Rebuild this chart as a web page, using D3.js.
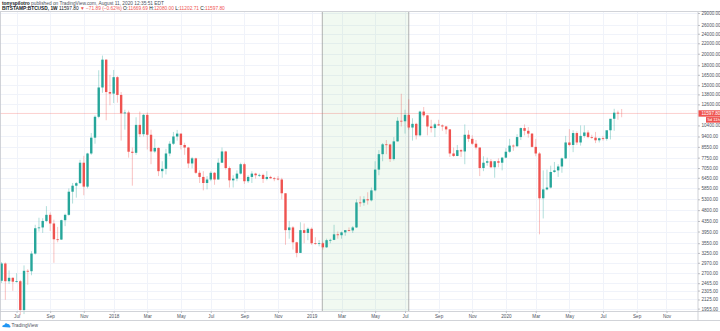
<!DOCTYPE html>
<html>
<head>
<meta charset="utf-8">
<script src="https://cdn.jsdelivr.net/npm/d3@7/dist/d3.min.js"></script>
<style>
  html, body { margin: 0; padding: 0; background: #fff; }
  svg { display: block; font-family: "Liberation Sans", Arial, sans-serif; }
</style>
</head>
<body>
<svg id="chart" width="720" height="331"></svg>
<script>
// Weekly BITSTAMP:BTCUSD candles, first bar = week of 2017-06-05
const firstWeek = "2017-06-05";
const opens = [
  2520,2950,2510,2590,2500,2510,1930,2760,2750,3230,4070,4100,4350,4600,4250,3680,3670,4380,4600,5680,
  6000,6140,7400,5950,8050,9300,11250,14700,18950,14100,13900,16150,13730,11610,11700,8180,8100,10450,9600,11450,
  9550,8200,8470,6850,7000,8050,8800,9400,9650,8700,8500,7350,7700,6750,6500,6150,6350,6750,6350,7400,
  8200,7050,6300,6400,6700,7300,6250,6500,6700,6600,6620,6380,6500,6420,6400,6350,5600,4000,4100,3580,
  3250,4000,3900,4050,3550,3540,3550,3420,3650,3660,3850,3820,3920,4000,3990,4100,5150,5140,5300,5250,
  5750,6950,8000,8750,8740,7650,8990,10850,10800,11450,10200,10550,9500,11800,11400,10300,10150,10500,10400,10300,
  10030,8050,7870,8300,8200,9550,9200,8800,8500,7050,7400,7500,7100,7500,7400,7750,8180,8650,8600,9350,
  10150,9900,9650,8550,8050,5350,5800,5900,6800,6900,7150,7700,8900,8700,9700,8900,9450,9750,9350,9300,
  9080,9250,9200,9950,11050,11680,11669.69
];
const highs = [
  2990,2980,2770,2600,2700,2540,2900,2800,3300,4200,4480,4460,4980,4700,4400,4120,4400,4650,5850,6150,
  6200,7600,7880,8100,9700,11400,17200,19666,19000,16500,17250,16300,14100,12000,11900,8500,11200,11800,11550,11700,
  10000,9200,8500,7500,8400,9000,9800,9980,9650,8880,8550,7800,7750,6900,6850,6550,6850,6800,7700,8500,
  8250,7150,6600,6900,7400,7400,6600,6850,6750,6700,6700,6850,6570,6500,6550,6450,5600,4350,4150,3600,
  4300,4250,4100,4100,3750,3650,3600,3700,3700,4200,3950,3950,4000,4100,4150,5300,5450,5450,5650,5900,
  7500,8300,8850,9100,8800,9350,11200,13880,12000,13200,11100,10650,11900,12300,11450,10950,10650,10950,10500,10350,
  10050,8500,8700,8400,10500,9950,9500,9100,8500,7850,7750,7650,7500,7700,7800,8450,9200,8750,9600,10200,
  10500,10250,9700,9200,8150,6900,6950,7200,7450,7300,7750,9450,10050,9950,9850,10400,10400,9950,9550,9800,
  9300,9450,9350,10150,12100,11900,12080
];
const lows = [
  2470,2120,2450,2300,2480,1840,1860,2430,2650,3200,3950,3900,4300,3970,2970,3580,3660,4150,4560,5100,
  5380,6100,5500,5860,7950,8800,11100,14000,10900,12500,12750,12800,9050,10000,7750,6000,7950,9350,9400,8350,
  7300,8100,6550,6450,6650,7850,8700,9050,8350,7950,7050,7030,6680,6150,5750,5800,6250,6050,6350,7400,
  6950,5900,5900,6250,6650,6100,6150,6150,6400,6500,6150,6300,6400,6250,6300,5300,3500,3700,3350,3122,
  3250,3550,3650,3500,3500,3450,3350,3400,3550,3650,3700,3700,3800,3950,3900,4080,4950,5000,5050,5200,
  5700,6600,7500,8000,7450,7550,8970,10300,9650,10000,9050,9150,9400,11200,9500,9750,9350,10350,9900,9600,
  7800,7800,7850,7800,7300,8950,8700,8350,6550,6850,7200,7050,6450,7100,6900,7700,8100,8250,8550,9100,
  9500,9300,8500,7850,3850,4450,5750,5850,6750,6500,6750,7650,8600,8150,8700,8650,9300,9250,9200,8850,
  8900,9050,9050,9150,9900,10950,11202.71
];
const closes = [
  2950,2510,2590,2500,2510,1930,2760,2750,3230,4070,4100,4350,4600,4250,3680,3670,4380,4600,5680,6000,
  6140,7400,5950,8050,9300,11250,14700,18950,14100,13900,16150,13730,11610,11700,8180,8100,10450,9600,11450,9550,
  8200,8470,6850,7000,8050,8800,9400,9650,8700,8500,7350,7700,6750,6500,6150,6350,6750,6350,7400,8200,
  7050,6300,6400,6700,7300,6250,6500,6700,6600,6620,6380,6500,6420,6400,6350,5600,4000,4100,3580,3250,
  4000,3900,4050,3550,3540,3550,3420,3650,3660,3850,3820,3920,4000,3990,4100,5150,5140,5300,5250,5750,
  6950,8000,8750,8740,7650,8990,10850,10800,11450,10200,10550,9500,11800,11400,10300,10150,10500,10400,10300,10030,
  8050,7870,8300,8200,9550,9200,8800,8500,7050,7400,7500,7100,7500,7400,7750,8180,8650,8600,9350,10150,
  9900,9650,8550,8050,5350,5800,5900,6800,6900,7150,7700,8900,8700,9700,8900,9450,9750,9350,9300,9080,
  9250,9200,9950,11050,11680,11597.80
];
// Price axis labels
const priceTicks = [29000,26000,24000,22000,20000,18000,16500,15000,13800,12600,10400,9400,8550,7750,7050,
  6450,5850,5300,4800,4350,3950,3550,3250,2970,2700,2465,2305,2125,1955];
// Time axis labels (month starts)
const monthStarts = ["2017-07-01","2017-09-01","2017-11-01","2018-01-01","2018-03-01","2018-05-01","2018-07-01",
  "2018-09-01","2018-11-01","2019-01-01","2019-03-01","2019-05-01","2019-07-01","2019-09-01","2019-11-01",
  "2020-01-01","2020-03-01","2020-05-01","2020-07-01","2020-09-01","2020-11-01"];
const monthLabels = ["Jul","Sep","Nov","2018","Mar","May","Jul","Sep","Nov","2019","Mar","May","Jul","Sep","Nov",
  "2020","Mar","May","Jul","Sep","Nov"];
// Highlighted period
const zoneStart = "2019-01-27";
const zoneEnd = "2019-07-08";
const lastPrice = 11597.80;

const UP = "#26a69a", DOWN = "#ef5350";
const pane = { left: 0, right: 697.5, top: 12, bottom: 311 };
const parse = d3.utcParse("%Y-%m-%d");
const t0 = parse(firstWeek);
const WEEK = 7 * 864e5;
const dateIndex = s => (parse(s) - t0) / WEEK;
// bar index of the first weekly bar opening inside the month
const monthIndex = s => Math.ceil(dateIndex(s) - 1e-9);

const svg = d3.select("#chart");
const x = d3.scaleLinear().domain([-0.43, 186.3]).range([pane.left, pane.right]);
const y = d3.scaleLog().domain([1913, 29266]).range([pane.bottom, pane.top]);

const candles = opens.map((o, i) => ({ i, o, h: highs[i], l: lows[i], c: closes[i] }));
const monthIdx = monthStarts.map(monthIndex);

// grid
const grid = svg.append("g").attr("stroke", "#f0f3fa").attr("stroke-width", 1);
grid.selectAll("line.h").data(priceTicks).join("line")
  .attr("x1", pane.left).attr("x2", pane.right)
  .attr("y1", d => Math.round(y(d)) + 0.5).attr("y2", d => Math.round(y(d)) + 0.5);
grid.selectAll("line.v").data(monthIdx).join("line")
  .attr("y1", pane.top).attr("y2", pane.bottom)
  .attr("x1", d => Math.round(x(d)) + 0.5).attr("x2", d => Math.round(x(d)) + 0.5);

// highlighted zone
const zx0 = x(dateIndex(zoneStart)), zx1 = x(dateIndex(zoneEnd));
svg.append("rect").attr("x", zx0).attr("y", pane.top).attr("width", zx1 - zx0)
  .attr("height", pane.bottom - pane.top).attr("fill", "#4caf50").attr("fill-opacity", 0.08);
svg.selectAll("line.zone").data([zx0, zx1]).join("line")
  .attr("x1", d => d).attr("x2", d => d).attr("y1", pane.top).attr("y2", pane.bottom)
  .attr("stroke", "#9e9e9e").attr("stroke-width", 0.8);

// last price line
svg.append("line").attr("x1", pane.left).attr("x2", pane.right)
  .attr("y1", y(lastPrice)).attr("y2", y(lastPrice))
  .attr("stroke", DOWN).attr("stroke-opacity", 0.35).attr("stroke-width", 0.8);

// candles
const bw = 2.4;
const cg = svg.append("g");
cg.selectAll("line.wick").data(candles).join("line")
  .attr("x1", d => x(d.i)).attr("x2", d => x(d.i))
  .attr("y1", d => y(d.h)).attr("y2", d => y(d.l))
  .attr("stroke", d => d.c >= d.o ? UP : DOWN).attr("stroke-opacity", 0.4).attr("stroke-width", 0.9);
cg.selectAll("rect.body").data(candles).join("rect")
  .attr("x", d => x(d.i) - bw / 2).attr("width", bw)
  .attr("y", d => y(Math.max(d.o, d.c)))
  .attr("height", d => Math.max(0.8, Math.abs(y(d.o) - y(d.c))))
  .attr("fill", d => d.c >= d.o ? UP : DOWN);

// pane borders
const border = "#c5c8ce";
svg.append("line").attr("x1", 0).attr("x2", 720).attr("y1", pane.top - 0.5).attr("y2", pane.top - 0.5).attr("stroke", border).attr("stroke-width", 0.8);
svg.append("line").attr("x1", 0).attr("x2", 720).attr("y1", pane.bottom + 0.5).attr("y2", pane.bottom + 0.5).attr("stroke", border).attr("stroke-width", 0.8);
svg.append("line").attr("x1", 0).attr("x2", 720).attr("y1", 320.5).attr("y2", 320.5).attr("stroke", border).attr("stroke-width", 0.8);
svg.append("line").attr("x1", pane.right + 0.5).attr("x2", pane.right + 0.5).attr("y1", pane.top).attr("y2", 320.5).attr("stroke", border).attr("stroke-width", 0.8);
svg.append("line").attr("x1", 0.5).attr("x2", 0.5).attr("y1", pane.top).attr("y2", 320.5).attr("stroke", border).attr("stroke-width", 0.8);

// price axis
const yAxis = d3.axisRight(y).tickValues(priceTicks).tickFormat(d => d.toFixed(2)).tickSize(2).tickPadding(1.5);
const ya = svg.append("g").attr("transform", `translate(${pane.right + 0.5},0)`).call(yAxis);
ya.select(".domain").remove();
ya.selectAll(".tick line").attr("stroke", "#9598a1").attr("stroke-width", 0.6);
ya.selectAll(".tick text").attr("fill", "#4c525e").attr("font-size", 4.6);

// time axis
const xAxis = d3.axisBottom(x).tickValues(monthIdx).tickFormat((d, k) => monthLabels[k]).tickSize(1.5).tickPadding(1.5);
const xa = svg.append("g").attr("transform", `translate(0,${pane.bottom + 0.5})`).call(xAxis);
xa.select(".domain").remove();
xa.selectAll(".tick line").attr("stroke", "#9598a1").attr("stroke-width", 0.6);
xa.selectAll(".tick text").attr("fill", "#4c525e").attr("font-size", 4.6);

// last price label
const ly = y(lastPrice);
svg.append("rect").attr("x", pane.right + 1).attr("y", ly - 3.2).attr("width", 720 - pane.right - 1).attr("height", 6.4).attr("fill", DOWN);
svg.append("text").attr("x", 701.5).attr("y", ly + 1.6).attr("fill", "#fff").attr("font-size", 4.6).text(lastPrice.toFixed(2));
svg.append("rect").attr("x", 706).attr("y", ly + 3.6).attr("width", 14).attr("height", 5.6).attr("fill", DOWN);
svg.append("text").attr("x", 707.5).attr("y", ly + 7.6).attr("fill", "#fff").attr("font-size", 4.2).text("5d 11h");

// header
const h1 = svg.append("text").attr("x", 2).attr("y", 5.2).attr("font-size", 4.8).attr("fill", "#4c525e");
h1.append("tspan").attr("font-weight", "bold").attr("fill", "#131722").text("tonyspilotro");
h1.append("tspan").text(" published on TradingView.com, August 11, 2020 12:35:51 EDT");
const h2 = svg.append("text").attr("x", 2).attr("y", 10.4).attr("font-size", 4.8).attr("fill", "#131722");
h2.append("tspan").attr("font-weight", "bold").text("BITSTAMP:BTCUSD, 1W ");
h2.append("tspan").text("11597.80 ");
h2.append("tspan").attr("fill", DOWN).text("▼ −71.89 (−0.62%) ");
[["O:", "11669.69"], ["H:", "12080.00"], ["L:", "11202.71"], ["C:", "11597.80"]].forEach(([k, v]) => {
  h2.append("tspan").text(k);
  h2.append("tspan").attr("fill", DOWN).text(v + " ");
});

// TradingView mark
const logo = svg.append("g").attr("transform", "translate(2,322)");
logo.append("path").attr("d", "M0.5,5 C0,3.6 1.2,2.6 2.4,3 C2.7,1.4 4.6,0.8 5.6,2 C6.6,1.6 7.8,2.4 7.6,3.6 C8.6,3.8 8.8,5 8,5.4 Z").attr("fill", "#2196f3");
svg.append("text").attr("x", 11.5).attr("y", 326.8).attr("font-size", 4.8).attr("fill", "#4c525e").text("TradingView");
</script>
</body>
</html>
